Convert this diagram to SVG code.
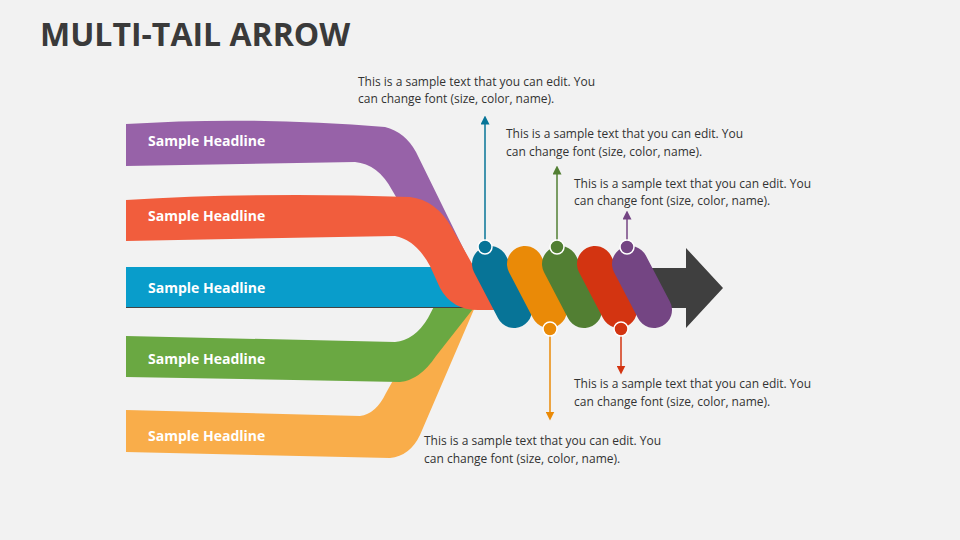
<svg xmlns="http://www.w3.org/2000/svg" width="960" height="540" viewBox="0 0 960 540">
<style>
.h{font-family:"Open Sans","Liberation Sans",sans-serif;font-weight:bold;font-size:14px;fill:#fff}
.t{font-family:"Open Sans","Liberation Sans",sans-serif;font-size:12px;fill:#333}
.cap{stroke-width:36;stroke-linecap:round;fill:none}
.dot{stroke:#fff;stroke-width:1.5}
</style>
<defs>
<marker id="ah" viewBox="0 0 10 10" refX="5" refY="5" markerWidth="6" markerHeight="6" orient="auto-start-reverse"><path d="M0,0L10,5L0,10Z" fill="context-stroke"/></marker>
</defs>
<rect width="960" height="540" fill="#f2f2f2"/>
<text x="40" y="46" font-family="'Open Sans','Liberation Sans',sans-serif" font-weight="bold" font-size="32" fill="#3a3a3a">MULTI-TAIL ARROW</text>
<g id="band-orange"><path d="M126,410 L360,416 Q376,414 386,393 L410,350 L478,300 L420,435 Q410,456 390,458 L126,452Z" fill="#f9ad4a"/><text class="h" x="148" y="441">Sample Headline</text></g>
<g id="band-green"><path d="M126,336 L395,342 Q415,340 428,318 L440,295 L480,300 L436,356 Q420,380 400,382 L126,377Z" fill="#6aa842"/><text class="h" x="148" y="364">Sample Headline</text></g>
<g id="band-purple"><path d="M126,124 Q250,116 385,127 Q405,132 416,152 L470,262 L432,258 L392,190 Q378,164 355,162 L126,166Z" fill="#9762a8"/><text class="h" x="148" y="146">Sample Headline</text></g>
<g id="band-blue"><rect x="126" y="267" width="350" height="40" fill="#099dcb"/><line x1="126" y1="307.5" x2="476" y2="307.5" stroke="#444" stroke-width="1"/><text class="h" x="148" y="293">Sample Headline</text></g>
<g id="band-red"><path d="M126,200 Q260,192 410,197 Q436,200 452,228 L498,310 L478,310 Q452,310 440,288 L430,266 Q416,240 395,236 L126,241Z" fill="#f15d3d"/><text class="h" x="148" y="221">Sample Headline</text></g>
<g id="arrow"><path d="M640,268 L686,268 L686,248 L723,288 L686,328 L686,308 L640,308Z" fill="#3f3f3f"/></g>
<g id="capsules">
<line class="cap" x1="490" y1="264" x2="514" y2="310" stroke="#077497"/>
<line class="cap" x1="525" y1="264" x2="549" y2="310" stroke="#ea8a07"/>
<line class="cap" x1="560" y1="264" x2="584" y2="310" stroke="#527f33"/>
<line class="cap" x1="595" y1="264" x2="619" y2="310" stroke="#d33411"/>
<line class="cap" x1="630" y1="264" x2="654" y2="310" stroke="#744583"/>
</g>
<g id="connectors" stroke-width="1.5" marker-end="url(#ah)">
<line x1="485" y1="247" x2="485" y2="120" stroke="#077497"/>
<line x1="557" y1="247" x2="557" y2="170" stroke="#527f33"/>
<line x1="627" y1="247" x2="627" y2="215" stroke="#744583"/>
<line x1="550" y1="329" x2="550" y2="416" stroke="#ea8a07"/>
<line x1="621" y1="329" x2="621" y2="370" stroke="#d33411"/>
</g>
<g id="dots">
<circle class="dot" cx="485" cy="247" r="7" fill="#077497"/>
<circle class="dot" cx="557" cy="247" r="7" fill="#527f33"/>
<circle class="dot" cx="627" cy="247" r="7" fill="#744583"/>
<circle class="dot" cx="550" cy="329" r="7" fill="#ea8a07"/>
<circle class="dot" cx="621" cy="329" r="7" fill="#d33411"/>
</g>
<g id="texts">
<text class="t" x="358" y="86">This is a sample text that you can edit. You</text><text class="t" x="358" y="103">can change font (size, color, name).</text>
<text class="t" x="506" y="138">This is a sample text that you can edit. You</text><text class="t" x="506" y="156">can change font (size, color, name).</text>
<text class="t" x="574" y="188">This is a sample text that you can edit. You</text><text class="t" x="574" y="205">can change font (size, color, name).</text>
<text class="t" x="574" y="388">This is a sample text that you can edit. You</text><text class="t" x="574" y="406">can change font (size, color, name).</text>
<text class="t" x="424" y="445">This is a sample text that you can edit. You</text><text class="t" x="424" y="463">can change font (size, color, name).</text>
</g>
</svg>
